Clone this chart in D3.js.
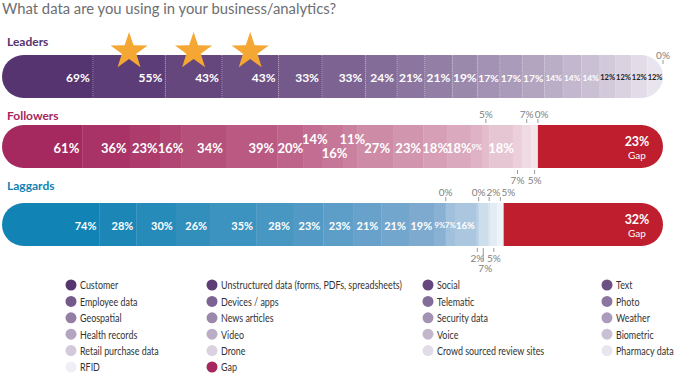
<!DOCTYPE html>
<html>
<head>
<meta charset="utf-8">
<script src="https://cdn.jsdelivr.net/npm/d3@7"></script>
<style>
body { margin: 0; background: #fff; }
svg { display: block; font-family: Lato, "Open Sans", sans-serif; }
</style>
</head>
<body>
<svg id="chart" width="674" height="375"></svg>
<script>
var title = "What data are you using in your business/analytics?";

// categories in legend order (row by row), darkest to lightest
var categories = [
    "Customer", "Unstructured data (forms, PDFs, spreadsheets)", "Social", "Text",
    "Employee data", "Devices / apps", "Telematic", "Photo",
    "Geospatial", "News articles", "Security data", "Weather",
    "Health records", "Video", "Voice", "Biometric",
    "Retail purchase data", "Drone", "Crowd sourced review sites", "Pharmacy data",
    "RFID"
];
var leaders   = [69, 55, 43, 43, 33, 33, 24, 21, 21, 19, 17, 17, 17, 14, 14, 14, 12, 12, 12, 12, 0];
var followers = [61, 36, 23, 16, 34, 39, 20, 14, 16, 11, 27, 23, 18, 18, 9, 5, 18, 7, 7, 5, 0];
var laggards  = [74, 28, 30, 26, 35, 28, 23, 23, 21, 21, 19, 9, 0, 7, 16, 2, 0, 7, 2, 5, 5];
var starred = ["Unstructured data (forms, PDFs, spreadsheets)", "Social", "Text"];
var gapName = "Gap";

var svg = d3.select("#chart");
var barH = 43;
var gapColor = "#be1e2d";

var groups = [
    {name: "Leaders", values: leaders, top: 55, titleY: 46, colors: ["#553470", "#a392b3", "#f1eef5"],
        base: 12, stagger: false, allow: 0, smallColor: "#222", separators: true},
    {name: "Followers", values: followers, top: 125, titleY: 120, colors: ["#a5285f", "#ce8ba6", "#f8eef2"],
        base: 13, stagger: true, allow: 5, smallColor: "#fff", separators: false},
    {name: "Laggards", values: laggards, top: 203, titleY: 190, colors: ["#1183b4", "#7eaad0", "#eef3f8"],
        base: 11, stagger: false, allow: 0, smallColor: "#fff", separators: false}
];

var leadersTotal = d3.sum(leaders);
var x = d3.scaleLinear().domain([0, leadersTotal]).range([2, 663]);
var idx = d3.scaleLinear().domain([0, categories.length - 1]).range([0, 1]);

// title
svg.append("text")
    .attr("x", 2).attr("y", 14)
    .attr("font-size", 14.8)
    .attr("fill", "#6d6e71")
    .text(title);

var defs = svg.append("defs");

// zero / tiny values (and the small ones in the tail) get a leader tick outside the bar
function isOutside(v, i) {
    return v <= 5 || (i >= 15 && v < 9);
}

groups.forEach(function (g, gi) {
    var total = d3.sum(g.values);
    var starts = Array.from(d3.cumsum([0].concat(g.values)));
    var color = d3.piecewise(d3.interpolateRgb, g.colors);
    var top = g.top, bottom = g.top + barH, cy = g.top + barH / 2;

    svg.append("text")
        .attr("x", 7).attr("y", g.titleY)
        .attr("font-size", 12).attr("font-weight", 700)
        .attr("fill", g.colors[0])
        .text(g.name);

    defs.append("clipPath").attr("id", "clip" + gi)
        .append("rect")
        .attr("x", x(0)).attr("y", top)
        .attr("width", x(leadersTotal) - x(0)).attr("height", barH)
        .attr("rx", barH / 2).attr("ry", barH / 2);

    var bar = svg.append("g").attr("clip-path", "url(#clip" + gi + ")");

    bar.selectAll("rect.seg")
        .data(g.values)
        .join("rect")
        .attr("class", "seg")
        .attr("x", function (d, i) { return x(starts[i]); })
        .attr("y", top)
        .attr("width", function (d) { return x(d) - x(0) + 0.3; })
        .attr("height", barH)
        .attr("fill", function (d, i) { return color(idx(i)); });

    if (g.separators) {
        bar.selectAll("line.sep")
            .data(g.values.slice(1))
            .join("line")
            .attr("x1", function (d, i) { return x(starts[i + 1]); })
            .attr("x2", function (d, i) { return x(starts[i + 1]); })
            .attr("y1", top).attr("y2", bottom)
            .attr("stroke", "#fff").attr("stroke-opacity", 0.35)
            .attr("stroke-dasharray", "1,1");
    }

    if (total < leadersTotal) {
        bar.append("rect")
            .attr("x", x(total)).attr("y", top)
            .attr("width", x(leadersTotal) - x(total)).attr("height", barH)
            .attr("fill", gapColor);
        var gx = x(leadersTotal) - 26;
        svg.append("text")
            .attr("x", gx).attr("y", cy - 5)
            .attr("text-anchor", "middle").attr("dominant-baseline", "central")
            .attr("font-size", 12.5).attr("font-weight", 700).attr("fill", "#fff")
            .text(Math.round((leadersTotal - total) / total * 100) + "%");
        svg.append("text")
            .attr("x", gx).attr("y", cy + 8.5)
            .attr("text-anchor", "middle").attr("dominant-baseline", "central")
            .attr("font-size", 10).attr("fill", "#fff")
            .text(gapName);
    }

    // inside labels
    var labels = [];
    g.values.forEach(function (v, i) {
        if (isOutside(v, i)) return;
        var x0 = x(starts[i]), x1 = x(starts[i] + v), w = x1 - x0;
        var t = svg.append("text")
            .attr("dominant-baseline", "central")
            .attr("font-size", g.base).attr("font-weight", 700)
            .attr("fill", "#fff")
            .text(v + "%");
        var tw = t.node().getComputedTextLength();
        labels.push({t: t, i: i, x0: x0, x1: x1, w: w, tw: tw, over: tw > w + 3});
    });
    labels.forEach(function (l, k) {
        var prev = labels[k - 1], next = labels[k + 1];
        var inRun = g.stagger && l.over &&
            ((prev && prev.over && prev.i === l.i - 1) || (next && next.over && next.i === l.i + 1));
        if (inRun) {
            var runPos = 0, j = k;
            while (j > 0 && labels[j - 1].over && labels[j - 1].i === labels[j].i - 1) { j--; runPos++; }
            l.t.attr("x", (l.x0 + l.x1) / 2 + 2).attr("y", runPos % 2 === 0 ? cy - 8 : cy + 6)
                .attr("text-anchor", "middle");
        } else if (l.tw <= l.w - 6) {
            l.t.attr("x", l.x1 - 3).attr("y", cy + 1).attr("text-anchor", "end");
        } else if (l.tw <= l.w + g.allow) {
            l.t.attr("x", (l.x0 + l.x1) / 2).attr("y", cy + 1).attr("text-anchor", "middle");
        } else {
            var size = Math.max(7.5, Math.min(g.base, g.base * (l.w - 2) / l.tw));
            l.t.attr("x", (l.x0 + l.x1) / 2).attr("y", cy + 1)
                .attr("text-anchor", "middle")
                .attr("font-size", size)
                .attr("fill", size < 8 ? g.smallColor : "#fff");
        }
    });

    // outside labels, alternating above / below
    var above = [], below = [];
    var n = 0;
    g.values.forEach(function (v, i) {
        if (!isOutside(v, i)) return;
        var ax = x(starts[i] + v / 2);
        (n % 2 === 0 ? above : below).push({v: v, x: ax});
        n++;
    });
    var r = barH / 2, capStart = x(leadersTotal) - r;
    var lastRight = -Infinity;
    above.forEach(function (a) {
        var base = top;
        if (a.x > capStart) base = top + 11;
        var t = svg.append("text")
            .attr("font-size", 10).attr("fill", "#808080")
            .attr("text-anchor", "middle").attr("dominant-baseline", "central")
            .text(a.v + "%");
        var tw = t.node().getComputedTextLength();
        var tx = Math.max(a.x, lastRight + tw / 2 + 1);
        lastRight = tx + tw / 2;
        t.attr("x", tx).attr("y", base - 11);
        svg.append("line")
            .attr("x1", a.x).attr("x2", a.x)
            .attr("y1", base - 6).attr("y2", base - 2)
            .attr("stroke", "#999").attr("stroke-width", 1);
    });
    var lastRow0 = -Infinity;
    below.forEach(function (b) {
        var t = svg.append("text")
            .attr("font-size", 10).attr("fill", "#808080")
            .attr("text-anchor", "middle").attr("dominant-baseline", "central")
            .text(b.v + "%");
        var tw = t.node().getComputedTextLength();
        var row = (b.x - tw / 2 < lastRow0 + 1) ? 1 : 0;
        if (row === 0) lastRow0 = b.x + tw / 2;
        t.attr("x", b.x + (row ? 2 : 0)).attr("y", bottom + (row ? 22 : 12));
        svg.append("line")
            .attr("x1", b.x).attr("x2", b.x)
            .attr("y1", bottom + 2).attr("y2", bottom + (row ? 15 : 6))
            .attr("stroke", "#999").attr("stroke-width", 1);
    });

    // stars over the highlighted leader categories
    if (gi === 0) {
        var star = d3.range(10).map(function (k) {
            var a = k * Math.PI / 5 - Math.PI / 2;
            var rad = k % 2 === 0 ? 19.5 : 7.6;
            return [Math.cos(a) * rad, Math.sin(a) * rad];
        });
        starred.forEach(function (name) {
            var i = categories.indexOf(name);
            var sx = x(starts[i] + g.values[i] / 2);
            svg.append("path")
                .attr("d", "M" + star.join("L") + "Z")
                .attr("transform", "translate(" + sx + "," + 51.5 + ")")
                .attr("fill", "#f5a733");
        });
    }
});

// legend
var leaderColor = d3.piecewise(d3.interpolateRgb, groups[0].colors);
var legendItems = categories.map(function (c, i) { return {name: c, color: leaderColor(idx(i))}; });
legendItems.splice(21, 0, {name: gapName, color: "#a5285f"});
var colX = [71, 212, 428, 607];
legendItems.forEach(function (d, i) {
    var col, row;
    if (d.name === gapName) { col = 1; row = 5; } else { col = i % 4; row = Math.floor(i / 4); }
    var ly = 285 + row * 16.4;
    svg.append("circle").attr("cx", colX[col]).attr("cy", ly).attr("r", 5.5).attr("fill", d.color);
    // the reference uses a condensed face, so squeeze the text horizontally
    svg.append("g")
        .attr("transform", "translate(" + (colX[col] + 9) + "," + ly + ") scale(0.85,1)")
        .append("text")
        .attr("dominant-baseline", "central")
        .attr("font-size", 10.5).attr("fill", "#333")
        .text(d.name);
});
</script>
</body>
</html>
